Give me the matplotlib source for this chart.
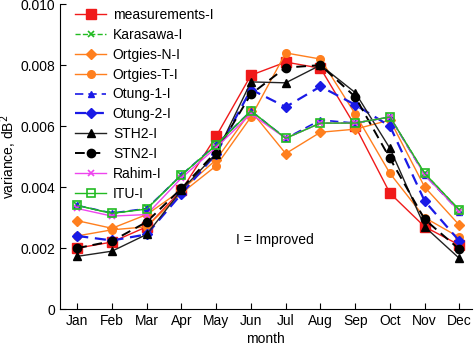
import matplotlib
matplotlib.use("Agg")
import matplotlib.pyplot as plt

plt.rcParams['font.family'] = ['Liberation Sans', 'DejaVu Sans']

months = ["Jan", "Feb", "Mar", "Apr", "May", "Jun", "Jul", "Aug", "Sep", "Oct", "Nov", "Dec"]

measurements = [0.0020, 0.0022, 0.0027, 0.0039, 0.00567, 0.00767, 0.0081, 0.0079, 0.0060, 0.0038, 0.0027, 0.0021]
karasawa     = [0.0034, 0.00313, 0.0033, 0.0044, 0.00538, 0.0065, 0.0056, 0.0061, 0.0061, 0.0063, 0.00445, 0.00325]
ortgies_n    = [0.0029, 0.00265, 0.0031, 0.0039, 0.0049, 0.0065, 0.0051, 0.0058, 0.0059, 0.0062, 0.0040, 0.00275]
ortgies_t    = [0.0024, 0.0026, 0.0027, 0.0038, 0.0047, 0.0063, 0.0084, 0.0082, 0.0064, 0.00445, 0.0030, 0.00235]
otung1       = [0.0034, 0.00315, 0.0033, 0.0044, 0.0054, 0.0065, 0.0056, 0.0062, 0.0061, 0.0063, 0.0044, 0.0032]
otung2       = [0.0024, 0.00225, 0.00245, 0.00378, 0.0051, 0.0072, 0.00663, 0.0073, 0.0067, 0.0060, 0.00354, 0.00223]
sth2         = [0.00173, 0.0019, 0.00245, 0.0039, 0.0051, 0.00745, 0.00742, 0.0080, 0.0071, 0.00527, 0.0027, 0.00166]
stn2         = [0.0020, 0.00223, 0.00286, 0.00396, 0.00516, 0.00705, 0.00792, 0.0080, 0.00696, 0.00494, 0.00294, 0.00196]
rahim        = [0.0033, 0.00305, 0.0031, 0.0043, 0.0053, 0.0064, 0.0056, 0.0061, 0.0061, 0.0063, 0.0044, 0.0032]
itu          = [0.0034, 0.00314, 0.00328, 0.0044, 0.00538, 0.0065, 0.0056, 0.0061, 0.0061, 0.0063, 0.00445, 0.00325]

x = list(range(1, 13))

fig = plt.figure(figsize=(4.74, 3.45), dpi=100)
ax = fig.add_axes([0.127, 0.104, 0.868, 0.884])

red = '#f01a1a'
green = '#22bb22'
orange = '#ff7f1e'
blue = '#1a1ae6'
magenta = '#ee44ee'

ax.plot(x, measurements, color=red, lw=1.0, marker='s', ms=6.5, mfc=red, mec=red, label='measurements-I', zorder=3)
ax.plot(x, karasawa, color=green, lw=1.0, ls='--', marker='x', ms=5, mew=1.2, label='Karasawa-I', zorder=3)
ax.plot(x, ortgies_n, color=orange, lw=1.0, marker='D', ms=5, mfc=orange, mec=orange, label='Ortgies-N-I', zorder=3)
ax.plot(x, ortgies_t, color=orange, lw=1.0, marker='o', ms=5.5, mfc=orange, mec=orange, label='Ortgies-T-I', zorder=3)
ax.plot(x, otung1, color=blue, lw=1.2, ls=(0, (5, 3)), marker='^', ms=5, mfc=blue, mec=blue, label='Otung-1-I', zorder=3)
ax.plot(x, otung2, color=blue, lw=1.6, ls=(0, (5, 3)), marker='D', ms=5.5, mfc=blue, mec=blue, label='Otung-2-I', zorder=3)
ax.plot(x, sth2, color='#222222', lw=1.0, marker='^', ms=6, mfc='black', mec='black', label='STH2-I', zorder=3)
ax.plot(x, stn2, color='black', lw=1.4, ls=(0, (5, 3)), marker='o', ms=6, mfc='black', mec='black', label='STN2-I', zorder=3)
ax.plot(x, rahim, color=magenta, lw=1.0, marker='x', ms=5, mew=1.2, label='Rahim-I', zorder=3)
ax.plot(x, itu, color=green, lw=1.0, marker='s', ms=6, mfc='none', mec=green, mew=1.2, label='ITU-I', zorder=3)

ax.set_xlim(0.51, 12.35)
ax.set_ylim(0, 0.010)
ax.set_xticks(x)
ax.set_xticklabels(months)
ax.set_yticks([0, 0.002, 0.004, 0.006, 0.008, 0.010])
ax.set_yticklabels(['0', '0.002', '0.004', '0.006', '0.008', '0.010'])
ax.tick_params(direction='in', labelsize=10, length=4)
ax.spines['top'].set_visible(False)
ax.spines['right'].set_visible(False)

ax.set_xlabel('month', fontsize=10, labelpad=3)
ax.set_ylabel('variance, dB$^2$', fontsize=10, labelpad=1)

ax.text(6.7, 0.00226, 'I = Improved', fontsize=10, ha='center', va='center')

ax.legend(loc='upper left', frameon=False, fontsize=10, handlelength=2.2,
          labelspacing=0.42, borderaxespad=0.1, handletextpad=0.5,
          bbox_to_anchor=(0.02, 1.01))

fig.savefig('out.png', dpi=100)
